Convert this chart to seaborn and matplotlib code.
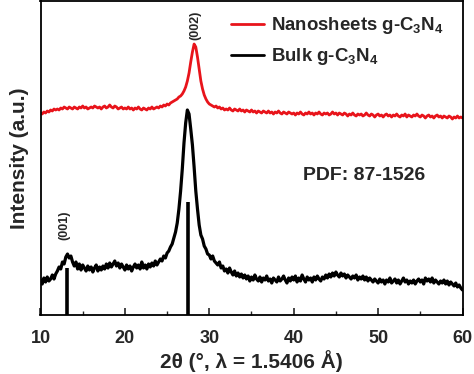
import numpy as np
import pandas as pd
import matplotlib
matplotlib.use("Agg")
import matplotlib.pyplot as plt
import seaborn as sns

# ---- data (y in arbitrary units) ----
two_theta = [round(10 + 0.2 * i, 1) for i in range(251)]

bulk_intensity = [
    35, 31, 37, 33, 38, 34, 36, 40, 36, 41,
    44, 48, 46, 53, 51, 58, 61, 57, 59, 53,
    49, 53, 46, 51, 45, 50, 47, 44, 49, 45,
    48, 43, 47, 50, 44, 48, 45, 49, 46, 51,
    47, 52, 48, 51, 54, 49, 52, 47, 51, 48,
    45, 50, 46, 49, 44, 48, 51, 47, 50, 46,
    53, 47, 50, 46, 51, 48, 52, 49, 54, 50,
    53, 56, 54, 59, 57, 62, 64, 68, 71, 77,
    83, 92, 106, 124, 146, 172, 192, 205, 201, 186,
    170, 148, 124, 106, 90, 80, 76, 69, 66, 61,
    60, 56, 59, 54, 52, 50, 53, 47, 49, 44,
    46, 42, 47, 43, 40, 44, 39, 42, 38, 41,
    37, 40, 36, 39, 34, 38, 35, 40, 36, 34,
    38, 33, 37, 35, 39, 34, 36, 32, 37, 35,
    33, 38, 34, 36, 39, 35, 32, 37, 34, 38,
    35, 39, 33, 37, 34, 40, 36, 33, 38, 35,
    37, 33, 38, 35, 39, 36, 34, 38, 36, 40,
    37, 41, 38, 42, 39, 43, 40, 38, 42, 39,
    41, 37, 40, 38, 36, 39, 37, 40, 35, 38,
    36, 39, 35, 38, 34, 37, 35, 33, 36, 34,
    32, 36, 33, 35, 31, 35, 33, 37, 32, 34,
    36, 32, 35, 31, 34, 37, 33, 35, 31, 34,
    32, 35, 31, 34, 36, 33, 35, 31, 37, 34,
    36, 33, 37, 32, 35, 33, 31, 34, 32, 35,
    31, 34, 30, 33, 31, 29, 32, 28, 30, 27,
    25,
]

nano_intensity = [
    202, 201, 203, 202, 204, 203, 205, 204, 206, 205,
    206, 205, 207, 206, 208, 207, 206, 208, 207, 206,
    208, 207, 206, 208, 207, 209, 207, 208, 206, 207,
    208, 207, 209, 208, 207, 208, 206, 208, 209, 207,
    208, 210, 208, 207, 209, 208, 206, 207, 208, 206,
    207, 206, 208, 206, 207, 205, 207, 206, 208, 206,
    205, 207, 206, 205, 207, 206, 208, 206, 207, 208,
    207, 209, 208, 210, 209, 211, 210, 212, 213, 214,
    215, 216, 218, 219, 221, 224, 228, 234, 242, 253,
    263, 271, 268, 258, 246, 234, 226, 220, 216, 213,
    211, 210, 209, 208, 209, 207, 208, 206, 207, 205,
    206, 205, 207, 205, 204, 206, 205, 204, 206, 204,
    205, 203, 205, 204, 203, 205, 203, 204, 202, 204,
    203, 202, 204, 203, 202, 204, 202, 203, 201, 203,
    202, 204, 202, 201, 203, 202, 201, 203, 202, 201,
    202, 200, 202, 201, 203, 201, 200, 202, 201, 203,
    201, 202, 200, 202, 201, 203, 201, 200, 202, 201,
    202, 200, 201, 203, 201, 202, 200, 202, 201, 200,
    202, 201, 199, 201, 200, 202, 200, 199, 201, 200,
    201, 199, 200, 202, 200, 199, 201, 200, 198, 200,
    201, 199, 200, 198, 200, 201, 199, 200, 198, 200,
    199, 201, 199, 198, 200, 199, 201, 198, 200, 199,
    198, 200, 199, 201, 199, 198, 200, 199, 197, 199,
    200, 198, 199, 197, 199, 200, 198, 199, 197, 199,
    198, 197, 199, 198, 196, 198, 197, 199, 197, 198,
    197,
]

pdf_positions = [13.1, 27.45]
pdf_heights = [47, 113]

labels = ["Nanosheets g-C$_{3}$N$_{4}$", "Bulk g-C$_{3}$N$_{4}$"]
colors = ["#e8141b", "#000000"]

# ---- style ----
sns.set_theme(style="white")
plt.rcParams["font.family"] = ["Liberation Sans", "DejaVu Sans"]
plt.rcParams["font.weight"] = "bold"
plt.rcParams["mathtext.fontset"] = "custom"
plt.rcParams["mathtext.rm"] = "Liberation Sans:bold"
plt.rcParams["mathtext.it"] = "Liberation Sans:bold"
plt.rcParams["mathtext.bf"] = "Liberation Sans:bold"
plt.rcParams["mathtext.default"] = "rm"

fig = plt.figure(figsize=(4.74, 3.74), dpi=100)
ax = fig.add_axes([40.5 / 474, 59 / 374, 422 / 474, 314 / 374])

df_nano = pd.DataFrame({"x": two_theta, "y": nano_intensity})
df_bulk = pd.DataFrame({"x": two_theta, "y": bulk_intensity})

sns.lineplot(data=df_nano, x="x", y="y", ax=ax, color=colors[0], lw=2.0,
             estimator=None, sort=False, label=labels[0])
sns.lineplot(data=df_bulk, x="x", y="y", ax=ax, color=colors[1], lw=2.3,
             estimator=None, sort=False, label=labels[1])

ax.vlines(pdf_positions, 0, pdf_heights, color="black", lw=2.6)

ax.set_xlim(10, 60)
ax.set_ylim(0, 314)
ax.set_yticks([])
ax.set_xticks([10, 20, 30, 40, 50, 60])
ax.set_xticks([15, 25, 35, 45, 55], minor=True)
ax.tick_params(axis="x", which="major", direction="in", length=5, width=1.2,
               labelsize=13, pad=11, bottom=True, top=False)
ax.tick_params(axis="x", which="minor", direction="in", length=3, width=1.0,
               bottom=True, top=False)
for lab in ax.get_xticklabels():
    lab.set_fontweight("bold")

for sp in ax.spines.values():
    sp.set_color("black")
    sp.set_linewidth(1.3)

ax.set_xlabel("2θ (°, λ = 1.5406 Å)", fontsize=15, fontweight="bold", labelpad=2)
ax.set_ylabel("Intensity (a.u.)", fontsize=15, fontweight="bold", labelpad=8)

ax.text(28.3, 290, "(002)", rotation=90, ha="center", va="center", fontsize=9)
ax.text(12.8, 90, "(001)", rotation=90, ha="center", va="center", fontsize=9)
ax.text(48.4, 140, "PDF: 87-1526", ha="center", va="center", fontsize=14, fontweight="bold")

leg = ax.legend(loc="upper left", bbox_to_anchor=(0.452, 0.955), frameon=False,
                fontsize=13.4, handlelength=1.75, handletextpad=0.4,
                labelspacing=0.54, borderaxespad=0, borderpad=0)
for t in leg.get_texts():
    t.set_fontweight("bold")
for h in leg.get_lines():
    h.set_linewidth(2)

fig.savefig("out.png", dpi=100)
